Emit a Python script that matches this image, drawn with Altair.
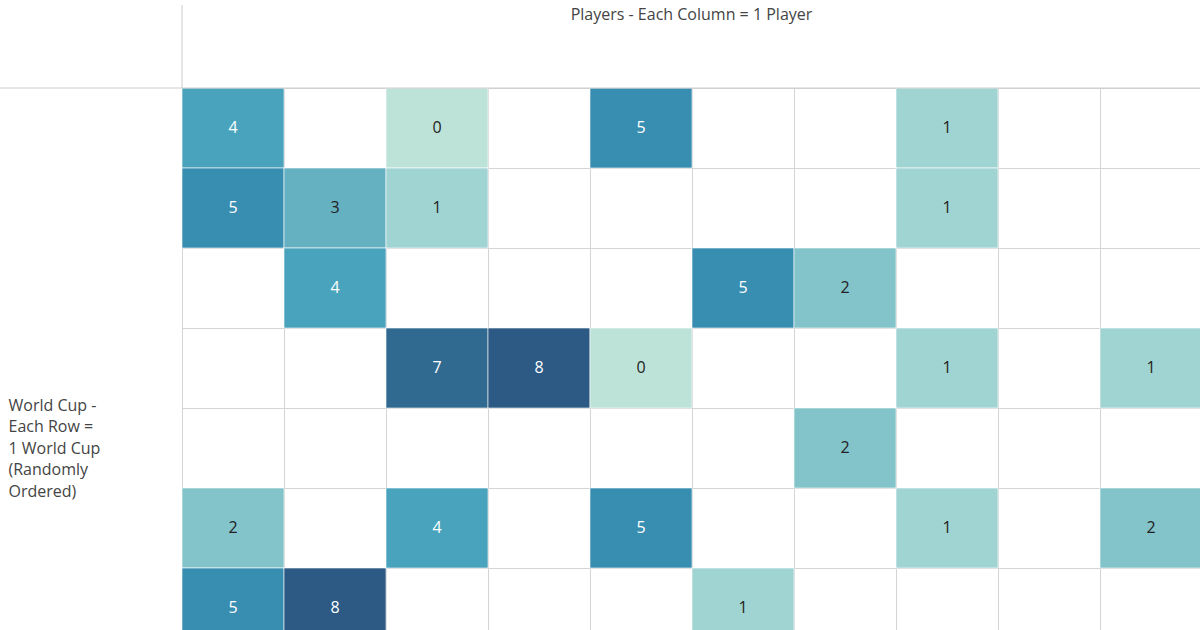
import altair as alt
import pandas as pd

# cell data: row index (world cup), column index (player), value
rows = [0, 0, 0, 0,
        1, 1, 1, 1,
        2, 2, 2,
        3, 3, 3, 3, 3,
        4,
        5, 5, 5, 5, 5,
        6, 6, 6]
cols = [0, 2, 4, 7,
        0, 1, 2, 7,
        1, 5, 6,
        2, 3, 4, 7, 9,
        6,
        0, 2, 4, 7, 9,
        0, 1, 5]
values = [4, 0, 5, 1,
          5, 3, 1, 1,
          4, 5, 2,
          7, 8, 0, 1, 1,
          2,
          2, 4, 5, 1, 2,
          5, 8, 1]

color_domain = [0, 1, 2, 3, 4, 5, 7, 8]
color_range = ["#bde3d9", "#a0d4d3", "#83c3ca", "#66b1c1",
               "#49a3bd", "#378eb1", "#306a91", "#2c5a85"]

col_title = "Players - Each Column = 1 Player"
row_title = ["World Cup -", "Each Row =", "1 World Cup", "(Randomly", "Ordered)"]

df = pd.DataFrame({"row": rows, "col": cols, "value": values})

FONT = "Open Sans"
W, H = 1018, 542
CELL_W, CELL_H = 102, 80

xscale = alt.Scale(domain=[0, W / CELL_W], nice=False, zero=False)
yscale = alt.Scale(domain=[0, H / CELL_H], nice=False, zero=False, reverse=True)

base = alt.Chart(df).transform_calculate(
    col2="datum.col + 1", row2="datum.row + 1",
    cx="datum.col + 0.5", cy="datum.row + 0.5"
)

rects = base.mark_rect(stroke="#ffffff", strokeOpacity=0.6, strokeWidth=1).encode(
    x=alt.X("col:Q", scale=xscale,
            axis=alt.Axis(orient="top", values=list(range(0, 11)), grid=True,
                          gridColor="#d4d4d4", gridWidth=1, labels=False, ticks=False,
                          domain=False, title=col_title, titleFont=FONT,
                          titleFontSize=16, titleFontWeight="normal", titleColor="#444444",
                          titleBaseline="middle", titleY=-74, titleX=W / 2)),
    x2="col2:Q",
    y=alt.Y("row:Q", scale=yscale,
            axis=alt.Axis(orient="left", values=list(range(0, 8)), grid=True,
                          gridColor="#d4d4d4", gridWidth=1, labels=False, ticks=False,
                          domain=False, title=row_title, titleFont=FONT,
                          titleFontSize=16, titleFontWeight="normal", titleColor="#444444",
                          titleAngle=0, titleAlign="left", titleBaseline="middle",
                          titleLineHeight=21.5, titleX=-174, titleY=317)),
    y2="row2:Q",
    color=alt.Color("value:Q", scale=alt.Scale(domain=color_domain, range=color_range),
                    legend=None),
)

labels = base.mark_text(font=FONT, fontSize=16, baseline="middle", align="center").encode(
    x=alt.X("cx:Q", scale=xscale),
    y=alt.Y("cy:Q", scale=yscale),
    text="value:Q",
    color=alt.condition("datum.value >= 4", alt.value("#ffffff"), alt.value("#222222")),
)

hline = alt.Chart(pd.DataFrame({"a": [0]})).mark_rule(color="#cccccc", strokeWidth=1).encode(
    x=alt.value(-182), x2=alt.value(W), y=alt.value(0)
)
vline = alt.Chart(pd.DataFrame({"a": [0]})).mark_rule(color="#cccccc", strokeWidth=1).encode(
    x=alt.value(0), y=alt.value(-83), y2=alt.value(0)
)

chart = alt.layer(rects, labels, hline, vline).properties(
    width=W, height=H,
    autosize=alt.AutoSizeParams(type="none"),
    padding={"left": 182, "top": 88, "right": 0, "bottom": 0},
    background="#ffffff",
).configure_view(stroke=None)

chart.save("out.html", embed_options={"renderer": "svg", "actions": False})
